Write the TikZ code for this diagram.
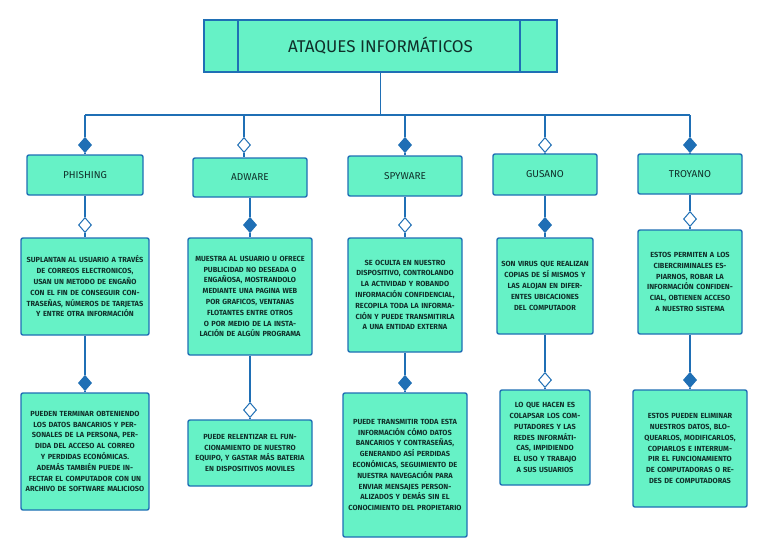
\documentclass[tikz,border=0pt]{standalone}
\usepackage{fontspec}
\setmainfont{Fira Sans}
\usetikzlibrary{shapes.geometric}
\definecolor{aq}{HTML}{66F2C6}
\definecolor{bl}{HTML}{1F6FB5}
\definecolor{tx}{HTML}{10302A}
\tikzset{
 bx/.style={draw=bl,fill=aq,line width=1.4pt,rounded corners=2pt,align=center,inner sep=2pt,text=tx,font=\fontsize{7.4}{10.8}\selectfont\bfseries},
 cat/.style={bx,font=\fontsize{10}{12}\selectfont},
 dfull/.style={diamond,draw=bl,fill=bl,line width=1pt,inner sep=0pt,minimum width=13pt,minimum height=15pt},
 dopen/.style={dfull,fill=white},
 ln/.style={draw=bl,line width=1.1pt}
}
\newcommand{\bxat}[8]{%
 \pgfmathsetmacro{\bw}{#4-#3}\pgfmathsetmacro{\bh}{#6-#5}\pgfmathsetmacro{\tw}{#4-#3-#7}%
 \pgfmathsetmacro{\cx}{(#3+#4)/2}\pgfmathsetmacro{\cy}{(#5+#6)/2}%
 \node[#1,minimum width=\bw pt,minimum height=\bh pt,text width=\tw pt] (#2) at (\cx,\cy) {\hyphenpenalty=10000 \exhyphenpenalty=10000 #8};}
\begin{document}
\begin{tikzpicture}[x=1pt,y=-1pt]
\useasboundingbox[fill=white] (0,0) rectangle (768,558);
% title
\node[draw=bl,fill=aq,line width=1.4pt,minimum width=353pt,minimum height=52pt,font=\fontsize{17}{20}\selectfont,text=tx,inner sep=0] (t) at (380.5,46) {ATAQUES INFORMÁTICOS};
\draw[bl,line width=1.4pt] (238,20) -- (238,72) (520,20) -- (520,72);
\coordinate (h) at (380.5,115);
\coordinate (h1) at (85,115);
\coordinate (h5) at (690,115);
\draw[ln] (t.south) -- (h) (h1) -- (h5);
% diamonds top
\node[dfull] (d1) at (85,145) {};
\node[dopen] (d2) at (244,145) {};
\node[dfull] (d3) at (405,145) {};
\node[dopen] (d4) at (545,145) {};
\node[dfull] (d5) at (690,145) {};
\foreach \i/\x in {1/85,2/244,3/405,4/545,5/690} {\coordinate (c\i) at (\x,115); \draw[ln] (c\i) -- (d\i.north);}
% categories
\bxat{cat}{k1}{27}{143}{155}{195}{8}{PHISHING}
\bxat{cat}{k2}{193}{307}{158}{197}{8}{ADWARE}
\bxat{cat}{k3}{348}{462}{156}{196}{8}{SPYWARE}
\bxat{cat}{k4}{493}{597}{154}{195}{8}{GUSANO}
\bxat{cat}{k5}{638}{742}{154}{194}{8}{TROYANO}
% second diamonds
\node[dopen] (e1) at (85,225) {};
\node[dfull] (e2) at (250,225) {};
\node[dopen] (e3) at (405,225) {};
\node[dfull] (e4) at (545,225) {};
\node[dopen] (e5) at (690,219) {};
% descriptions
\bxat{bx}{p1}{21}{149}{238}{335}{8}{SUPLANTAN AL USUARIO A TRAVÉS DE CORREOS ELECTRONICOS, USAN UN METODO DE ENGAÑO CON EL FIN DE CONSEGUIR CONTRASEÑAS, NÚMEROS DE TARJETAS Y ENTRE OTRA INFORMACIÓN}
\bxat{bx}{p2}{188}{312}{238}{355}{8}{MUESTRA AL USUARIO U OFRECE PUBLICIDAD NO DESEADA O ENGAÑOSA, MOSTRANDOLO MEDIANTE UNA PAGINA WEB POR GRAFICOS, VENTANAS FLOTANTES ENTRE OTROS O POR MEDIO DE LA INSTALACIÓN DE ALGÚN PROGRAMA}
\bxat{bx}{p3}{348}{462}{238}{352}{10}{SE OCULTA EN NUESTRO DISPOSITIVO, CONTROLANDO LA ACTIVIDAD Y ROBANDO INFORMACIÓN CONFIDENCIAL, RECOPILA TODA LA INFORMACIÓN Y PUEDE TRANSMITIRLA A UNA ENTIDAD EXTERNA}
\bxat{bx}{p4}{497}{593}{238}{334}{8}{SON VIRUS QUE REALIZAN COPIAS DE SÍ MISMOS Y LAS ALOJAN EN DIFERENTES UBICACIONES DEL COMPUTADOR}
\bxat{bx}{p5}{638}{742}{230}{334}{8}{ESTOS PERMITEN A LOS CIBERCRIMINALES ESPIARNOS, ROBAR LA INFORMACIÓN CONFIDENCIAL, OBTIENEN ACCESO A NUESTRO SISTEMA}
% third diamonds
\node[dfull] (f1) at (85,383) {};
\node[dopen] (f2) at (250,410) {};
\node[dfull] (f3) at (405,383) {};
\node[dopen] (f4) at (545,380) {};
\node[dfull] (f5) at (690,380) {};
% bottom
\bxat{bx}{q1}{21}{149}{393}{510}{6}{PUEDEN TERMINAR OBTENIENDO LOS DATOS BANCARIOS Y PERSONALES DE LA PERSONA, PERDIDA DEL ACCESO AL CORREO Y PERDIDAS ECONÓMICAS. ADEMÁS TAMBIÉN PUEDE INFECTAR EL COMPUTADOR CON UN ARCHIVO DE SOFTWARE MALICIOSO}
\bxat{bx}{q2}{188}{312}{420}{486}{8}{PUEDE RELENTIZAR EL FUNCIONAMIENTO DE NUESTRO EQUIPO, Y GASTAR MÁS BATERIA EN DISPOSITIVOS MOVILES}
\bxat{bx}{q3}{343}{467}{393}{537}{6}{PUEDE TRANSMITIR TODA ESTA INFORMACIÓN CÓMO DATOS BANCARIOS Y CONTRASEÑAS, GENERANDO ASÍ PERDIDAS ECONÓMICAS, SEGUIMIENTO DE NUESTRA NAVEGACIÓN PARA ENVIAR MENSAJES PERSONALIZADOS Y DEMÁS SIN EL CONOCIMIENTO DEL PROPIETARIO}
\bxat{bx}{q4}{500}{590}{390}{485}{6}{LO QUE HACEN ES COLAPSAR LOS COMPUTADORES Y LAS REDES INFORMÁTICAS, IMPIDIENDO EL USO Y TRABAJO A SUS USUARIOS}
\bxat{bx}{q5}{633}{747}{390}{507}{8}{ESTOS PUEDEN ELIMINAR NUESTROS DATOS, BLOQUEARLOS, MODIFICARLOS, COPIARLOS E INTERRUMPIR EL FUNCIONAMIENTO DE COMPUTADORAS O REDES DE COMPUTADORAS}
\foreach \i in {1,...,5} {
 \draw[ln] (d\i.south) -- (d\i.south |- k\i.north);
 \draw[ln] (e\i.north |- k\i.south) -- (e\i.north);
 \draw[ln] (e\i.south) -- (e\i.south |- p\i.north);
 \draw[ln] (f\i.north |- p\i.south) -- (f\i.north);
 \draw[ln] (f\i.south) -- (f\i.south |- q\i.north);
}
\end{tikzpicture}
\end{document}
